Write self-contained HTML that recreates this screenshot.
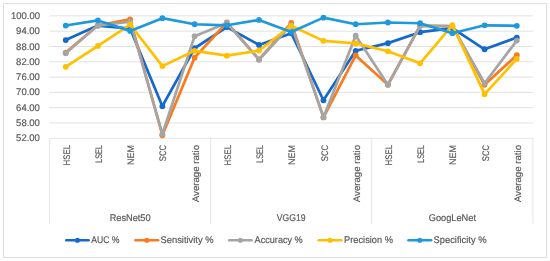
<!DOCTYPE html>
<html><head><meta charset="utf-8"><title>Chart</title>
<style>html,body{margin:0;padding:0;background:#fff}svg{display:block}</style></head>
<body>
<svg width="550" height="261" viewBox="0 0 550 261" font-family="'Liberation Sans', sans-serif" fill="#595959">
<style>text{stroke:#595959;stroke-width:0.18px;text-rendering:geometricPrecision}</style>
<rect x="0" y="0" width="550" height="261" fill="#fff"/>
<rect x="3.5" y="3.5" width="543" height="254" fill="#fff" stroke="#dedede" stroke-width="1"/>
<line x1="49.6" y1="15.85" x2="532.9" y2="15.85" stroke="#dedede" stroke-width="0.9"/>
<line x1="49.6" y1="31.16" x2="532.9" y2="31.16" stroke="#dedede" stroke-width="0.9"/>
<line x1="49.6" y1="46.46" x2="532.9" y2="46.46" stroke="#dedede" stroke-width="0.9"/>
<line x1="49.6" y1="61.77" x2="532.9" y2="61.77" stroke="#dedede" stroke-width="0.9"/>
<line x1="49.6" y1="77.08" x2="532.9" y2="77.08" stroke="#dedede" stroke-width="0.9"/>
<line x1="49.6" y1="92.38" x2="532.9" y2="92.38" stroke="#dedede" stroke-width="0.9"/>
<line x1="49.6" y1="107.69" x2="532.9" y2="107.69" stroke="#dedede" stroke-width="0.9"/>
<line x1="49.6" y1="122.99" x2="532.9" y2="122.99" stroke="#dedede" stroke-width="0.9"/>
<line x1="49.6" y1="138.30" x2="532.9" y2="138.30" stroke="#e2e2e2" stroke-width="0.9"/>
<line x1="49.60" y1="138.3" x2="49.60" y2="223.8" stroke="#e2e2e2" stroke-width="0.9"/>
<line x1="210.70" y1="138.3" x2="210.70" y2="223.8" stroke="#e2e2e2" stroke-width="0.9"/>
<line x1="371.80" y1="138.3" x2="371.80" y2="223.8" stroke="#e2e2e2" stroke-width="0.9"/>
<line x1="532.90" y1="138.3" x2="532.90" y2="223.8" stroke="#e2e2e2" stroke-width="0.9"/>
<text x="39.9" y="18.95" font-size="9.7" text-anchor="end" textLength="28.9" lengthAdjust="spacingAndGlyphs">100.00</text>
<text x="39.9" y="34.26" font-size="9.7" text-anchor="end" textLength="23.8" lengthAdjust="spacingAndGlyphs">94.00</text>
<text x="39.9" y="49.56" font-size="9.7" text-anchor="end" textLength="23.8" lengthAdjust="spacingAndGlyphs">88.00</text>
<text x="39.9" y="64.87" font-size="9.7" text-anchor="end" textLength="23.8" lengthAdjust="spacingAndGlyphs">82.00</text>
<text x="39.9" y="80.17" font-size="9.7" text-anchor="end" textLength="23.8" lengthAdjust="spacingAndGlyphs">76.00</text>
<text x="39.9" y="95.48" font-size="9.7" text-anchor="end" textLength="23.8" lengthAdjust="spacingAndGlyphs">70.00</text>
<text x="39.9" y="110.79" font-size="9.7" text-anchor="end" textLength="23.8" lengthAdjust="spacingAndGlyphs">64.00</text>
<text x="39.9" y="126.09" font-size="9.7" text-anchor="end" textLength="23.8" lengthAdjust="spacingAndGlyphs">58.00</text>
<text x="39.9" y="141.40" font-size="9.7" text-anchor="end" textLength="23.8" lengthAdjust="spacingAndGlyphs">52.00</text>
<text transform="translate(69.81,145) rotate(-90)" font-size="9.5" text-anchor="end" textLength="20.4" lengthAdjust="spacingAndGlyphs">HSEL</text>
<text transform="translate(102.03,145) rotate(-90)" font-size="9.5" text-anchor="end" textLength="17.8" lengthAdjust="spacingAndGlyphs">LSEL</text>
<text transform="translate(134.25,145) rotate(-90)" font-size="9.5" text-anchor="end" textLength="20.0" lengthAdjust="spacingAndGlyphs">NEM</text>
<text transform="translate(166.47,145) rotate(-90)" font-size="9.5" text-anchor="end" textLength="16.2" lengthAdjust="spacingAndGlyphs">SCC</text>
<text transform="translate(198.69,145) rotate(-90)" font-size="9.5" text-anchor="end" textLength="57.2" lengthAdjust="spacingAndGlyphs">Average ratio</text>
<text transform="translate(230.91,145) rotate(-90)" font-size="9.5" text-anchor="end" textLength="20.4" lengthAdjust="spacingAndGlyphs">HSEL</text>
<text transform="translate(263.13,145) rotate(-90)" font-size="9.5" text-anchor="end" textLength="17.8" lengthAdjust="spacingAndGlyphs">LSEL</text>
<text transform="translate(295.35,145) rotate(-90)" font-size="9.5" text-anchor="end" textLength="20.0" lengthAdjust="spacingAndGlyphs">NEM</text>
<text transform="translate(327.57,145) rotate(-90)" font-size="9.5" text-anchor="end" textLength="16.2" lengthAdjust="spacingAndGlyphs">SCC</text>
<text transform="translate(359.79,145) rotate(-90)" font-size="9.5" text-anchor="end" textLength="57.2" lengthAdjust="spacingAndGlyphs">Average ratio</text>
<text transform="translate(392.01,145) rotate(-90)" font-size="9.5" text-anchor="end" textLength="20.4" lengthAdjust="spacingAndGlyphs">HSEL</text>
<text transform="translate(424.23,145) rotate(-90)" font-size="9.5" text-anchor="end" textLength="17.8" lengthAdjust="spacingAndGlyphs">LSEL</text>
<text transform="translate(456.45,145) rotate(-90)" font-size="9.5" text-anchor="end" textLength="20.0" lengthAdjust="spacingAndGlyphs">NEM</text>
<text transform="translate(488.67,145) rotate(-90)" font-size="9.5" text-anchor="end" textLength="16.2" lengthAdjust="spacingAndGlyphs">SCC</text>
<text transform="translate(520.89,145) rotate(-90)" font-size="9.5" text-anchor="end" textLength="57.2" lengthAdjust="spacingAndGlyphs">Average ratio</text>
<text x="130.15" y="220.7" font-size="9.7" text-anchor="middle" textLength="41.0" lengthAdjust="spacingAndGlyphs">ResNet50</text>
<text x="291.25" y="220.7" font-size="9.7" text-anchor="middle" textLength="28.9" lengthAdjust="spacingAndGlyphs">VGG19</text>
<text x="452.35" y="220.7" font-size="9.7" text-anchor="middle" textLength="47.3" lengthAdjust="spacingAndGlyphs">GoogLeNet</text>
<polyline points="65.71,40.08 97.93,25.54 130.15,28.61 162.37,106.16 194.59,48.25 226.81,27.07 259.03,44.93 291.25,33.20 323.47,100.29 355.69,50.80 387.91,43.15 420.13,32.18 452.35,28.09 484.57,49.27 516.79,37.53" fill="none" stroke="#1568CC" stroke-width="2.7" stroke-linejoin="round" stroke-linecap="round"/>
<circle cx="65.71" cy="40.08" r="2.9" fill="#1568CC"/>
<circle cx="97.93" cy="25.54" r="2.9" fill="#1568CC"/>
<circle cx="130.15" cy="28.61" r="2.9" fill="#1568CC"/>
<circle cx="162.37" cy="106.16" r="2.9" fill="#1568CC"/>
<circle cx="194.59" cy="48.25" r="2.9" fill="#1568CC"/>
<circle cx="226.81" cy="27.07" r="2.9" fill="#1568CC"/>
<circle cx="259.03" cy="44.93" r="2.9" fill="#1568CC"/>
<circle cx="291.25" cy="33.20" r="2.9" fill="#1568CC"/>
<circle cx="323.47" cy="100.29" r="2.9" fill="#1568CC"/>
<circle cx="355.69" cy="50.80" r="2.9" fill="#1568CC"/>
<circle cx="387.91" cy="43.15" r="2.9" fill="#1568CC"/>
<circle cx="420.13" cy="32.18" r="2.9" fill="#1568CC"/>
<circle cx="452.35" cy="28.09" r="2.9" fill="#1568CC"/>
<circle cx="484.57" cy="49.27" r="2.9" fill="#1568CC"/>
<circle cx="516.79" cy="37.53" r="2.9" fill="#1568CC"/>
<polyline points="65.71,52.59 97.93,25.29 130.15,19.42 162.37,135.24 194.59,57.69 226.81,22.48 259.03,59.47 291.25,22.99 323.47,117.38 355.69,55.39 387.91,84.73 420.13,25.54 452.35,26.05 484.57,84.73 516.79,55.14" fill="none" stroke="#FA7A1E" stroke-width="2.7" stroke-linejoin="round" stroke-linecap="round"/>
<circle cx="65.71" cy="52.59" r="2.9" fill="#FA7A1E"/>
<circle cx="97.93" cy="25.29" r="2.9" fill="#FA7A1E"/>
<circle cx="130.15" cy="19.42" r="2.9" fill="#FA7A1E"/>
<circle cx="162.37" cy="135.24" r="2.9" fill="#FA7A1E"/>
<circle cx="194.59" cy="57.69" r="2.9" fill="#FA7A1E"/>
<circle cx="226.81" cy="22.48" r="2.9" fill="#FA7A1E"/>
<circle cx="259.03" cy="59.47" r="2.9" fill="#FA7A1E"/>
<circle cx="291.25" cy="22.99" r="2.9" fill="#FA7A1E"/>
<circle cx="323.47" cy="117.38" r="2.9" fill="#FA7A1E"/>
<circle cx="355.69" cy="55.39" r="2.9" fill="#FA7A1E"/>
<circle cx="387.91" cy="84.73" r="2.9" fill="#FA7A1E"/>
<circle cx="420.13" cy="25.54" r="2.9" fill="#FA7A1E"/>
<circle cx="452.35" cy="26.05" r="2.9" fill="#FA7A1E"/>
<circle cx="484.57" cy="84.73" r="2.9" fill="#FA7A1E"/>
<circle cx="516.79" cy="55.14" r="2.9" fill="#FA7A1E"/>
<polyline points="65.71,53.35 97.93,25.54 130.15,21.72 162.37,133.96 194.59,36.26 226.81,22.99 259.03,59.73 291.25,24.78 323.47,117.13 355.69,35.75 387.91,84.73 420.13,25.80 452.35,26.31 484.57,83.20 516.79,40.60" fill="none" stroke="#A5A5A5" stroke-width="2.7" stroke-linejoin="round" stroke-linecap="round"/>
<circle cx="65.71" cy="53.35" r="2.9" fill="#A5A5A5"/>
<circle cx="97.93" cy="25.54" r="2.9" fill="#A5A5A5"/>
<circle cx="130.15" cy="21.72" r="2.9" fill="#A5A5A5"/>
<circle cx="162.37" cy="133.96" r="2.9" fill="#A5A5A5"/>
<circle cx="194.59" cy="36.26" r="2.9" fill="#A5A5A5"/>
<circle cx="226.81" cy="22.99" r="2.9" fill="#A5A5A5"/>
<circle cx="259.03" cy="59.73" r="2.9" fill="#A5A5A5"/>
<circle cx="291.25" cy="24.78" r="2.9" fill="#A5A5A5"/>
<circle cx="323.47" cy="117.13" r="2.9" fill="#A5A5A5"/>
<circle cx="355.69" cy="35.75" r="2.9" fill="#A5A5A5"/>
<circle cx="387.91" cy="84.73" r="2.9" fill="#A5A5A5"/>
<circle cx="420.13" cy="25.80" r="2.9" fill="#A5A5A5"/>
<circle cx="452.35" cy="26.31" r="2.9" fill="#A5A5A5"/>
<circle cx="484.57" cy="83.20" r="2.9" fill="#A5A5A5"/>
<circle cx="516.79" cy="40.60" r="2.9" fill="#A5A5A5"/>
<polyline points="65.71,66.87 97.93,45.95 130.15,24.52 162.37,66.11 194.59,50.80 226.81,55.65 259.03,50.54 291.25,25.80 323.47,40.85 355.69,43.40 387.91,51.31 420.13,63.30 452.35,25.03 484.57,94.17 516.79,58.96" fill="none" stroke="#FFC000" stroke-width="2.7" stroke-linejoin="round" stroke-linecap="round"/>
<circle cx="65.71" cy="66.87" r="2.9" fill="#FFC000"/>
<circle cx="97.93" cy="45.95" r="2.9" fill="#FFC000"/>
<circle cx="130.15" cy="24.52" r="2.9" fill="#FFC000"/>
<circle cx="162.37" cy="66.11" r="2.9" fill="#FFC000"/>
<circle cx="194.59" cy="50.80" r="2.9" fill="#FFC000"/>
<circle cx="226.81" cy="55.65" r="2.9" fill="#FFC000"/>
<circle cx="259.03" cy="50.54" r="2.9" fill="#FFC000"/>
<circle cx="291.25" cy="25.80" r="2.9" fill="#FFC000"/>
<circle cx="323.47" cy="40.85" r="2.9" fill="#FFC000"/>
<circle cx="355.69" cy="43.40" r="2.9" fill="#FFC000"/>
<circle cx="387.91" cy="51.31" r="2.9" fill="#FFC000"/>
<circle cx="420.13" cy="63.30" r="2.9" fill="#FFC000"/>
<circle cx="452.35" cy="25.03" r="2.9" fill="#FFC000"/>
<circle cx="484.57" cy="94.17" r="2.9" fill="#FFC000"/>
<circle cx="516.79" cy="58.96" r="2.9" fill="#FFC000"/>
<polyline points="65.71,25.54 97.93,20.44 130.15,30.90 162.37,18.15 194.59,24.27 226.81,25.29 259.03,19.93 291.25,31.92 323.47,17.64 355.69,24.27 387.91,22.48 420.13,23.25 452.35,33.20 484.57,25.29 516.79,25.80" fill="none" stroke="#1E9ADC" stroke-width="2.7" stroke-linejoin="round" stroke-linecap="round"/>
<circle cx="65.71" cy="25.54" r="2.9" fill="#1E9ADC"/>
<circle cx="97.93" cy="20.44" r="2.9" fill="#1E9ADC"/>
<circle cx="130.15" cy="30.90" r="2.9" fill="#1E9ADC"/>
<circle cx="162.37" cy="18.15" r="2.9" fill="#1E9ADC"/>
<circle cx="194.59" cy="24.27" r="2.9" fill="#1E9ADC"/>
<circle cx="226.81" cy="25.29" r="2.9" fill="#1E9ADC"/>
<circle cx="259.03" cy="19.93" r="2.9" fill="#1E9ADC"/>
<circle cx="291.25" cy="31.92" r="2.9" fill="#1E9ADC"/>
<circle cx="323.47" cy="17.64" r="2.9" fill="#1E9ADC"/>
<circle cx="355.69" cy="24.27" r="2.9" fill="#1E9ADC"/>
<circle cx="387.91" cy="22.48" r="2.9" fill="#1E9ADC"/>
<circle cx="420.13" cy="23.25" r="2.9" fill="#1E9ADC"/>
<circle cx="452.35" cy="33.20" r="2.9" fill="#1E9ADC"/>
<circle cx="484.57" cy="25.29" r="2.9" fill="#1E9ADC"/>
<circle cx="516.79" cy="25.80" r="2.9" fill="#1E9ADC"/>
<line x1="66.25" y1="240.2" x2="88.65" y2="240.2" stroke="#1568CC" stroke-width="2.5" stroke-linecap="round"/>
<circle cx="77.45" cy="240.2" r="2.55" fill="#1568CC"/>
<text x="91.2" y="243.2" font-size="9.7" textLength="28.3" lengthAdjust="spacingAndGlyphs">AUC %</text>
<line x1="135.45" y1="240.2" x2="158.15" y2="240.2" stroke="#FA7A1E" stroke-width="2.5" stroke-linecap="round"/>
<circle cx="146.80" cy="240.2" r="2.55" fill="#FA7A1E"/>
<text x="160.5" y="243.2" font-size="9.7" textLength="53.0" lengthAdjust="spacingAndGlyphs">Sensitivity %</text>
<line x1="229.15" y1="240.2" x2="251.65" y2="240.2" stroke="#A5A5A5" stroke-width="2.5" stroke-linecap="round"/>
<circle cx="240.40" cy="240.2" r="2.55" fill="#A5A5A5"/>
<text x="254.6" y="243.2" font-size="9.7" textLength="48.1" lengthAdjust="spacingAndGlyphs">Accuracy %</text>
<line x1="318.65" y1="240.2" x2="341.45" y2="240.2" stroke="#FFC000" stroke-width="2.5" stroke-linecap="round"/>
<circle cx="330.05" cy="240.2" r="2.55" fill="#FFC000"/>
<text x="344.1" y="243.2" font-size="9.7" textLength="48.8" lengthAdjust="spacingAndGlyphs">Precision %</text>
<line x1="408.45" y1="240.2" x2="431.15" y2="240.2" stroke="#1E9ADC" stroke-width="2.5" stroke-linecap="round"/>
<circle cx="419.80" cy="240.2" r="2.55" fill="#1E9ADC"/>
<text x="433.6" y="243.2" font-size="9.7" textLength="52.9" lengthAdjust="spacingAndGlyphs">Specificity %</text>
</svg>
</body></html>
